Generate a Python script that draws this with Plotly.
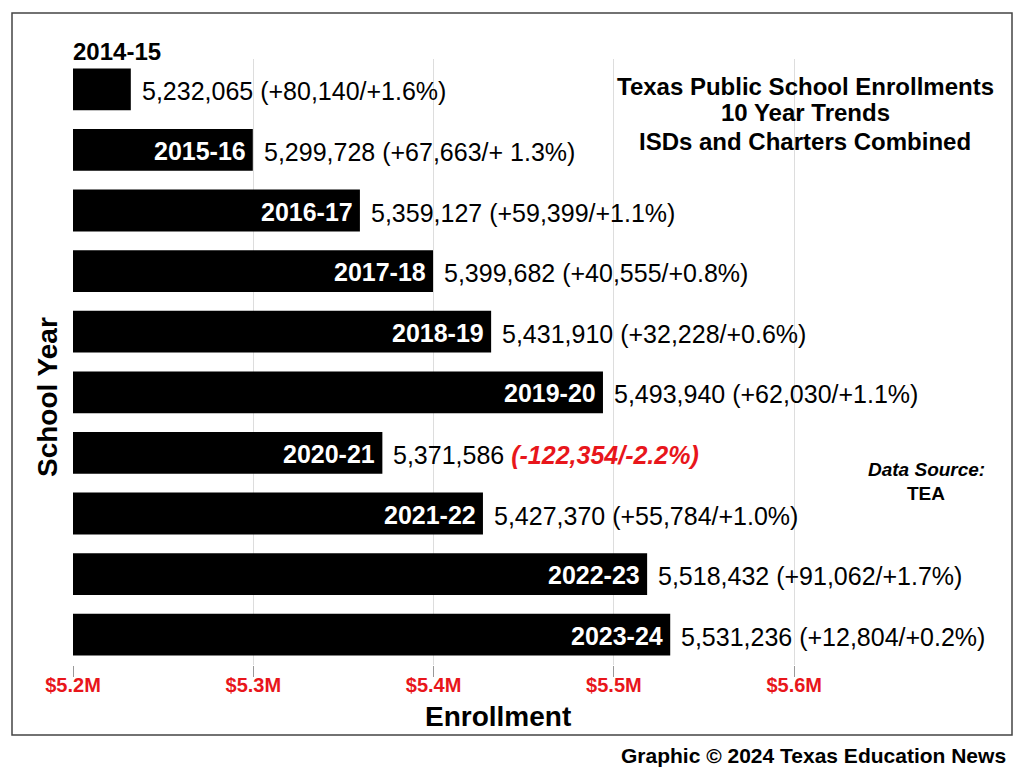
import plotly.graph_objects as go

years = ["2014-15", "2015-16", "2016-17", "2017-18", "2018-19",
         "2019-20", "2020-21", "2021-22", "2022-23", "2023-24"]
enrollment = [5232065, 5299728, 5359127, 5399682, 5431910,
              5493940, 5371586, 5427370, 5518432, 5531236]
change = ["+80,140", "+67,663", "+59,399", "+40,555", "+32,228",
          "+62,030", "-122,354", "+55,784", "+91,062", "+12,804"]
pct = ["+1.6%", "+ 1.3%", "+1.1%", "+0.8%", "+0.6%",
       "+1.1%", "-2.2%", "+1.0%", "+1.7%", "+0.2%"]
tick_vals = [5.2e6, 5.3e6, 5.4e6, 5.5e6, 5.6e6]
tick_text = ["$5.2M", "$5.3M", "$5.4M", "$5.5M", "$5.6M"]

W, H = 1024, 778
L, R, T, B = 73, 1000, 59, 665

def px(x):
    return (x - L) / (R - L)

def py(y):
    return (B - y) / (B - T)

FONT = "Liberation Sans, Arial, Helvetica, sans-serif"

fig = go.Figure()
fig.add_trace(go.Bar(
    x=enrollment, y=years, orientation="h",
    marker=dict(color="black", line=dict(width=0)),
    hoverinfo="x+y", showlegend=False,
))

ann = []
for i, (yr, v, c, p) in enumerate(zip(years, enrollment, change, pct)):
    val = f"{v:,}"
    if c.startswith("-"):
        txt = f"{val} <b><i><span style='color:#e8161b'>({c}/{p})</span></i></b>"
    else:
        txt = f"{val} ({c}/{p})"
    ann.append(dict(x=v, y=yr, xref="x", yref="y", text=txt, showarrow=False,
                    xanchor="left", yanchor="middle", xshift=9, yshift=-2,
                    font=dict(family=FONT, size=25, color="black")))
    if i == 0:
        ann.append(dict(x=5.2e6, y=yr, xref="x", yref="y", text=f"<b>{yr}</b>",
                        showarrow=False, xanchor="left", yanchor="middle",
                        xshift=-2, yshift=38,
                        font=dict(family=FONT, size=24, color="black")))
    else:
        ann.append(dict(x=v, y=yr, xref="x", yref="y", text=f"<b>{yr}</b>",
                        showarrow=False, xanchor="right", yanchor="middle",
                        xshift=-5, yshift=-1,
                        font=dict(family=FONT, size=25, color="white")))

title_lines = ["Texas Public School Enrollments", "10 Year Trends",
               "ISDs and Charters Combined"]
for k, (line, yy) in enumerate(zip(title_lines, [86, 113, 141])):
    ann.append(dict(x=px(805), y=py(yy), xref="paper", yref="paper",
                    text=f"<b>{line}</b>", showarrow=False,
                    xanchor="center", yanchor="middle",
                    font=dict(family=FONT, size=24, color="black")))

ann.append(dict(x=px(926), y=py(470), xref="paper", yref="paper",
                text="<b><i>Data Source:</i></b>", showarrow=False,
                xanchor="center", yanchor="middle",
                font=dict(family=FONT, size=19, color="black")))
ann.append(dict(x=px(926), y=py(493), xref="paper", yref="paper",
                text="<b>TEA</b>", showarrow=False,
                xanchor="center", yanchor="middle",
                font=dict(family=FONT, size=19, color="black")))
ann.append(dict(x=px(1008), y=py(755), xref="paper", yref="paper",
                text="<b>Graphic © 2024 Texas Education News</b>", showarrow=False,
                xanchor="right", yanchor="middle",
                font=dict(family=FONT, size=21, color="black")))
ann.append(dict(x=px(498), y=py(716), xref="paper", yref="paper",
                text="<b>Enrollment</b>", showarrow=False,
                xanchor="center", yanchor="middle",
                font=dict(family=FONT, size=28, color="black")))
ann.append(dict(x=px(47), y=py(397), xref="paper", yref="paper",
                text="<b>School Year</b>", showarrow=False, textangle=-90,
                xanchor="center", yanchor="middle",
                font=dict(family=FONT, size=28, color="black")))

fig.update_layout(
    width=W, height=H,
    margin=dict(l=L, r=W - R, t=T, b=H - B),
    paper_bgcolor="white", plot_bgcolor="white",
    bargap=0.31,
    annotations=ann,
    shapes=[dict(type="rect", xref="paper", yref="paper",
                 x0=px(12), x1=px(1012), y0=py(735), y1=py(13),
                 line=dict(color="#444444", width=1.5), layer="below")],
    xaxis=dict(range=[5.2e6, 5.2e6 + (R - L) / 1803 * 1e6],
               tickvals=tick_vals, ticktext=[f"<b>{t}</b>" for t in tick_text],
               tickfont=dict(family=FONT, size=20, color="#e8161b"),
               ticks="outside", ticklen=11, tickcolor="#999999", tickwidth=1,
               showgrid=True, gridcolor="#dddddd", gridwidth=1,
               zeroline=False, showline=False, fixedrange=True,
               ticklabelstandoff=-9),
    yaxis=dict(categoryorder="array", categoryarray=years,
               range=[9.5, -0.5], showticklabels=False, ticks="",
               showgrid=False, zeroline=False, showline=False),
    font=dict(family=FONT),
)

fig.write_html("out.html", config={"displayModeBar": False},
               post_script="document.body.style.margin='0';document.body.style.padding='0';")
